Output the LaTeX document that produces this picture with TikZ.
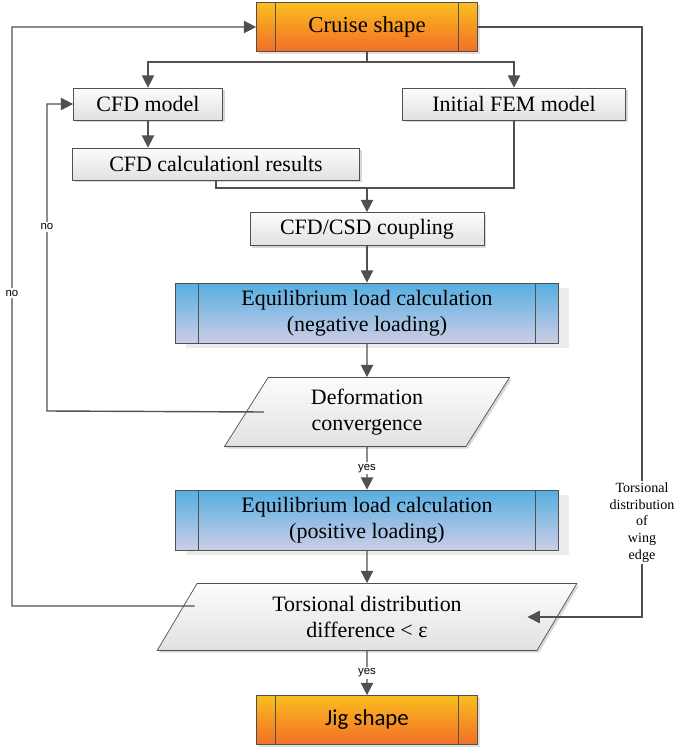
\documentclass[tikz,border=0pt]{standalone}
\usepackage{fontspec}
\setmainfont{Liberation Serif}
\newfontfamily\labelfont{Liberation Sans}
\newfontfamily\calfont{Carlito}
\usetikzlibrary{shapes.geometric,shadows,arrows.meta}
\definecolor{linegray}{RGB}{80,80,80}
\definecolor{boxtop}{RGB}{252,252,252}
\definecolor{boxbot}{RGB}{225,225,225}
\definecolor{orgtop}{RGB}{250,190,30}
\definecolor{orgbot}{RGB}{242,110,40}
\definecolor{blutop}{RGB}{85,175,225}
\definecolor{blubot}{RGB}{205,205,230}
\tikzset{
  box/.style={draw=linegray, top color=boxtop, bottom color=boxbot, inner sep=2pt,
    font=\fontsize{12.5}{14}\selectfont, drop shadow={shadow xshift=1.2pt, shadow yshift=-1.2pt, fill=black!30}},
  predef/.style={draw=linegray, inner sep=0pt,
    path picture={\draw[linegray] ([xshift=#1]path picture bounding box.north west) -- ([xshift=#1]path picture bounding box.south west);
      \draw[linegray] ([xshift=-#1]path picture bounding box.north east) -- ([xshift=-#1]path picture bounding box.south east);}},
  terminal/.style={predef=11pt, top color=orgtop, bottom color=orgbot, minimum width=221*0.02cm, minimum height=49*0.02cm,
    drop shadow={shadow xshift=1.2pt, shadow yshift=-1.2pt, fill=black!25}},
  load/.style={predef=13pt, top color=blutop, bottom color=blubot, minimum width=383*0.02cm, minimum height=60*0.02cm,
    align=center, font=\fontsize{12.5}{15}\selectfont,
    drop shadow={shadow xshift=6pt, shadow yshift=-3pt, fill=black!15}},
  decision/.style={draw=linegray, trapezium, trapezium left angle=62, trapezium right angle=118, trapezium stretches=true,
    top color=boxtop, bottom color=boxbot, align=center, font=\fontsize{12.5}{15}\selectfont, inner sep=0pt,
    drop shadow={shadow xshift=1.2pt, shadow yshift=-1.2pt, fill=black!30}},
  arr/.style={draw=linegray, thick, -{Triangle[length=7pt,width=7pt]}},
  line/.style={draw=linegray, thick},
  tag/.style={font=\labelfont\fontsize{6.5}{7}\selectfont, fill=white, inner sep=1pt},
}
\begin{document}
\begin{tikzpicture}[x=0.02cm, y=-0.02cm]
  \useasboundingbox (0,0) rectangle (685,753);

  \node[terminal] (cruise) at (367,27) {\fontsize{13}{14}\selectfont Cruise shape};
  \node[box, minimum width=149*0.02cm, minimum height=32*0.02cm] (cfd) at (148,104) {CFD model};
  \node[box, minimum width=223*0.02cm, minimum height=32*0.02cm] (fem) at (514,104) {Initial FEM model};
  \node[box, minimum width=287*0.02cm, minimum height=32*0.02cm] (calc) at (216,164) {CFD calculationl results};
  \node[box, minimum width=234*0.02cm, minimum height=33*0.02cm] (couple) at (367,229) {CFD/CSD coupling};
  \node[load] (negload) at (367,313) {Equilibrium load calculation\\(negative loading)};
  \node[decision, minimum width=287*0.02cm, minimum height=69*0.02cm] (deform) at (367,412) {Deformation\\convergence};
  \node[load] (posload) at (367,520) {Equilibrium load calculation\\(positive loading)};
  \node[decision, minimum width=420*0.02cm, minimum height=67*0.02cm] (torsion) at (367,617) {Torsional distribution\\difference < ε};
  \node[terminal] (jig) at (367,720) {\calfont\fontsize{13}{14}\selectfont Jig shape};

  \coordinate (split) at (367,62);
  \coordinate (merge) at (367,188);

  % main flow
  \draw[line] (cruise) -- (split);
  \draw[arr] (split) -| (cfd);
  \draw[arr] (split) -| (fem);
  \draw[arr] (cfd) -- (calc.north -| cfd);
  \draw[line] (calc.south) |- (merge);
  \draw[line] (fem.south) |- (merge);
  \draw[arr] (merge) -- (couple);
  \draw[arr] (couple) -- (negload);
  \draw[arr] (negload) -- (deform);
  \draw[arr] (deform) -- node[tag] {yes} (posload);
  \draw[arr] (posload) -- (torsion);
  \draw[arr] (torsion) -- node[tag] {yes} (jig);

  % loops
  \draw[arr] (deform.west) ++(18,0) coordinate (dleft) -- (47,411) |- node[tag, pos=0.3] {no} (cfd.west);
  \draw[arr] (torsion.west) ++(18,-11) -- (12,606) |- node[tag, pos=0.27] {no} (cruise.west);
  \draw[arr] (cruise.east) -- (642,27) |- node[pos=0.42, fill=white, align=center, inner sep=1pt,
    font=\fontsize{8}{9.5}\selectfont] {Torsional\\distribution\\of\\wing\\edge} ([xshift=-17]torsion.east);
\end{tikzpicture}
\end{document}
